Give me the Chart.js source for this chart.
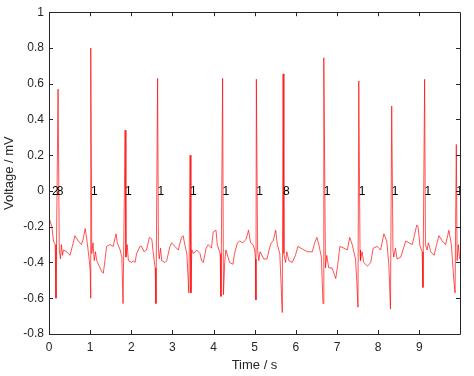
<!DOCTYPE html>
<html>
<head>
<meta charset="utf-8">
<script src="https://cdn.jsdelivr.net/npm/chart.js@4"></script>
<style>
  html, body { margin: 0; padding: 0; background: #fff; }
  #wrap { width: 474px; height: 376px; }
</style>
</head>
<body>
<div id="wrap"><canvas id="ecgChart" width="474" height="376"></canvas></div>
<script>
// ECG trace (time in s, voltage in mV)
const timeS = [
  0, 0.07, 0.11, 0.15, 0.17, 0.22, 0.25, 0.28, 0.30, 0.33, 0.35, 0.43, 0.51, 0.59, 0.63, 0.71, 0.79, 0.83, 0.88, 0.93, 0.98, 1.00,
  1.01, 1.02, 1.04, 1.07, 1.10, 1.13, 1.16, 1.22, 1.28, 1.32, 1.36, 1.40, 1.48, 1.56, 1.63, 1.66, 1.73, 1.77,
  1.80, 1.85, 1.87, 1.90, 1.93, 2.01, 2.05, 2.09, 2.13, 2.21, 2.25, 2.31, 2.37, 2.44, 2.50, 2.53, 2.58,
  2.60, 2.64, 2.66, 2.68, 2.71, 2.74, 2.82, 2.86, 2.94, 2.98, 3.06, 3.14, 3.22, 3.26, 3.31, 3.35,
  3.40, 3.43, 3.45, 3.47, 3.51, 3.59, 3.67, 3.71, 3.75, 3.82, 3.87, 3.95, 3.99, 4.06, 4.09, 4.16,
  4.18, 4.22, 4.24, 4.27, 4.30, 4.39, 4.47, 4.51, 4.58, 4.63, 4.71, 4.79, 4.85, 4.90, 4.96, 5.00, 5.02,
  5.03, 5.04, 5.07, 5.10, 5.13, 5.22, 5.30, 5.35, 5.40, 5.45, 5.51, 5.55, 5.61,
  5.67, 5.69, 5.71, 5.75, 5.78, 5.83, 5.91, 5.99, 6.05, 6.12, 6.20, 6.28, 6.40, 6.46, 6.51, 6.56, 6.62,
  6.66, 6.68, 6.72, 6.75, 6.80, 6.88, 6.97, 7.02, 7.07, 7.17, 7.25, 7.31, 7.37, 7.45, 7.48,
  7.51, 7.53, 7.56, 7.57, 7.61, 7.65, 7.74, 7.82, 7.88, 7.98, 8.06, 8.14, 8.21, 8.26,
  8.30, 8.33, 8.36, 8.38, 8.42, 8.46, 8.55, 8.63, 8.67, 8.75, 8.83, 8.94, 8.97, 9.02, 9.07,
  9.09, 9.13, 9.15, 9.19, 9.22, 9.28, 9.36, 9.42, 9.48, 9.56, 9.64, 9.72, 9.78, 9.84,
  9.87, 9.90, 9.92, 9.95, 9.98
];
const voltageMV = [
  -0.15, -0.20, -0.28, -0.30, -0.60, 0.57, -0.33, -0.38, -0.30, -0.36, -0.33, -0.34, -0.36, -0.29, -0.25, -0.28, -0.30, -0.27, -0.21, -0.29, -0.39, -0.44,
  -0.60, 0.80, -0.35, -0.29, -0.39, -0.34, -0.39, -0.42, -0.45, -0.46, -0.39, -0.31, -0.30, -0.31, -0.24, -0.29, -0.33, -0.37,
  -0.63, 0.34, -0.37, -0.30, -0.39, -0.40, -0.39, -0.40, -0.35, -0.31, -0.31, -0.34, -0.33, -0.26, -0.27, -0.34, -0.43,
  -0.63, 0.63, -0.33, -0.38, -0.32, -0.39, -0.40, -0.39, -0.31, -0.29, -0.31, -0.33, -0.26, -0.25, -0.31, -0.35,
  -0.57, 0.20, -0.57, -0.33, -0.35, -0.33, -0.35, -0.39, -0.40, -0.32, -0.30, -0.32, -0.23, -0.22, -0.30, -0.35,
  -0.59, 0.63, -0.58, -0.40, -0.33, -0.40, -0.41, -0.35, -0.29, -0.28, -0.29, -0.27, -0.22, -0.29, -0.30, -0.33, -0.38,
  -0.61, 0.625, -0.33, -0.39, -0.34, -0.38, -0.38, -0.33, -0.29, -0.28, -0.22, -0.30, -0.35,
  -0.68, 0.655, -0.35, -0.40, -0.34, -0.39, -0.40, -0.36, -0.31, -0.32, -0.33, -0.34, -0.34, -0.29, -0.26, -0.30, -0.37,
  -0.63, 0.745, -0.43, -0.36, -0.43, -0.43, -0.49, -0.41, -0.31, -0.32, -0.33, -0.26, -0.30, -0.38, -0.50,
  -0.65, 0.615, -0.33, -0.39, -0.34, -0.40, -0.42, -0.40, -0.32, -0.31, -0.33, -0.24, -0.28, -0.41,
  -0.66, 0.475, -0.33, -0.37, -0.32, -0.38, -0.37, -0.31, -0.28, -0.29, -0.30, -0.19, -0.20, -0.31, -0.34,
  -0.54, 0.625, -0.30, -0.33, -0.29, -0.34, -0.36, -0.30, -0.25, -0.28, -0.30, -0.22, -0.30, -0.50,
  -0.57, 0.26, -0.39, -0.30, -0.38
];

// beat annotations written at 0 mV
const beatTimes = [0.07, 0.19, 1.02, 1.85, 2.64, 3.43, 4.22, 5.04, 5.69, 6.68, 7.53, 8.33, 9.13, 9.90];
const beatLabels = ["2", "8", "1", "1", "1", "1", "1", "1", "8", "1", "1", "1", "1", "1"];

const xTicks = [0, 1, 2, 3, 4, 5, 6, 7, 8, 9];
const yTicks = [-0.8, -0.6, -0.4, -0.2, 0, 0.2, 0.4, 0.6, 0.8, 1];

const axisColor = "#262626";
const fontFamily = "'Liberation Sans', Arial, sans-serif";

const points = timeS.map((t, i) => ({ x: t, y: voltageMV[i] }));

// box round the plot with inward ticks, MATLAB style
const boxPlugin = {
  id: "box",
  afterDraw(chart) {
    const { ctx, chartArea: a, scales } = chart;
    const len = 4;
    ctx.save();
    ctx.strokeStyle = axisColor;
    ctx.lineWidth = 1;
    ctx.beginPath();
    ctx.rect(Math.round(a.left) + 0.5, Math.round(a.top) + 0.5,
             Math.round(a.right - a.left), Math.round(a.bottom - a.top));
    xTicks.forEach(v => {
      const px = Math.round(scales.x.getPixelForValue(v)) + 0.5;
      ctx.moveTo(px, a.bottom); ctx.lineTo(px, a.bottom - len);
      ctx.moveTo(px, a.top); ctx.lineTo(px, a.top + len);
    });
    yTicks.forEach(v => {
      const py = Math.round(scales.y.getPixelForValue(v)) + 0.5;
      ctx.moveTo(a.left, py); ctx.lineTo(a.left + len, py);
      ctx.moveTo(a.right, py); ctx.lineTo(a.right - len, py);
    });
    ctx.stroke();
    ctx.restore();
  }
};

// beat labels
const labelPlugin = {
  id: "beatLabels",
  afterDatasetsDraw(chart) {
    const { ctx, chartArea: a, scales } = chart;
    ctx.save();
    ctx.beginPath();
    ctx.rect(a.left, a.top, a.right - a.left, a.bottom - a.top);
    ctx.clip();
    ctx.fillStyle = "#000";
    ctx.font = "12px " + fontFamily;
    ctx.textAlign = "left";
    ctx.textBaseline = "middle";
    beatTimes.forEach((t, i) => {
      ctx.fillText(beatLabels[i], scales.x.getPixelForValue(t), scales.y.getPixelForValue(0) + 1);
    });
    ctx.restore();
  }
};

new Chart(document.getElementById("ecgChart").getContext("2d"), {
  type: "line",
  data: {
    datasets: [{
      data: points,
      borderColor: "rgba(255, 0, 0, 0.85)",
      borderWidth: 0.8,
      pointRadius: 0,
      tension: 0,
      fill: false
    }]
  },
  options: {
    responsive: false,
    animation: false,
    layout: { padding: { left: 0, top: 11, right: 14, bottom: 0 } },
    plugins: {
      legend: { display: false },
      tooltip: { enabled: false }
    },
    scales: {
      x: {
        type: "linear",
        min: 0,
        max: 9.99,
        afterFit(scale) { scale.height = 42; },
        grid: { display: false, drawTicks: false },
        border: { display: false },
        ticks: {
          stepSize: 1,
          includeBounds: false,
          padding: 6,
          color: axisColor,
          font: { family: fontFamily, size: 12 }
        },
        title: {
          display: true,
          text: "Time / s",
          color: axisColor,
          padding: { top: 0, bottom: 3 },
          font: { family: fontFamily, size: 13 }
        }
      },
      y: {
        min: -0.8,
        max: 1,
        afterFit(scale) { scale.width = 49; },
        grid: { display: false, drawTicks: false },
        border: { display: false },
        ticks: {
          stepSize: 0.2,
          padding: 5,
          color: axisColor,
          font: { family: fontFamily, size: 12 },
          callback: v => String(Number(v.toFixed(1)))
        },
        title: {
          display: true,
          text: "Voltage / mV",
          color: axisColor,
          padding: { top: 2, bottom: 0 },
          font: { family: fontFamily, size: 13 }
        }
      }
    }
  },
  plugins: [boxPlugin, labelPlugin]
});
</script>
</body>
</html>
